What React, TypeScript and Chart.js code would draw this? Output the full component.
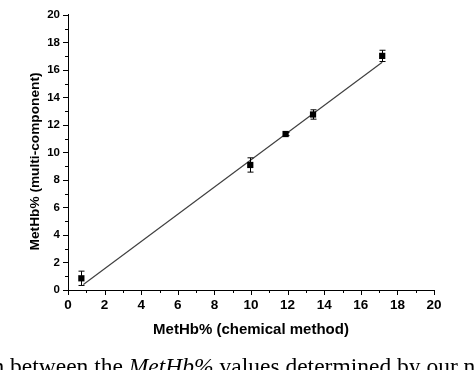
import React, { useEffect, useRef } from "react";
import { Chart, registerables } from "chart.js";

Chart.register(...registerables);

// Data
const chemicalX = [0.73, 9.96, 11.89, 13.39, 17.17];
const multiY = [0.85, 9.09, 11.34, 12.76, 17.02];
const yErr = [0.52, 0.52, 0.12, 0.34, 0.41];
const fitX = [0.84, 17.17];
const fitY = [0.4, 16.55];
const xTickValues = [0, 2, 4, 6, 8, 10, 12, 14, 16, 18, 20];
const yTickValues = [0, 2, 4, 6, 8, 10, 12, 14, 16, 18, 20];
const xTitle = "MetHb% (chemical method)";
const yTitle = "MetHb% (multi-component)";

const FONT = "'Liberation Sans', Arial, sans-serif";

const decorPlugin = {
  id: "decor",
  afterDatasetsDraw(chart: any) {
    const { ctx, scales } = chart;
    const x = scales.x;
    const y = scales.y;
    ctx.save();
    ctx.strokeStyle = "#000";
    ctx.lineWidth = 1;
    chemicalX.forEach((v, i) => {
      const px = Math.round(x.getPixelForValue(v)) + 0.5;
      const top = y.getPixelForValue(multiY[i] + yErr[i]);
      const bot = y.getPixelForValue(multiY[i] - yErr[i]);
      ctx.beginPath();
      ctx.moveTo(px, top);
      ctx.lineTo(px, bot);
      ctx.moveTo(px - 3, top);
      ctx.lineTo(px + 3, top);
      ctx.moveTo(px - 3, bot);
      ctx.lineTo(px + 3, bot);
      ctx.stroke();
    });
    ctx.restore();
  },
  afterDraw(chart: any) {
    const { ctx, chartArea, scales } = chart;
    const x = scales.x;
    const y = scales.y;
    ctx.save();
    ctx.strokeStyle = "#000";
    ctx.lineWidth = 1;
    ctx.beginPath();
    const xMin = xTickValues[0];
    const xMax = xTickValues[xTickValues.length - 1];
    for (let v = xMin; v <= xMax; v += 1) {
      const len = xTickValues.includes(v) ? 5 : 3;
      const px = Math.round(x.getPixelForValue(v)) + 0.5;
      ctx.moveTo(px, chartArea.bottom);
      ctx.lineTo(px, chartArea.bottom + len);
    }
    const yMin = yTickValues[0];
    const yMax = yTickValues[yTickValues.length - 1];
    for (let v = yMin; v <= yMax; v += 1) {
      const len = yTickValues.includes(v) ? 5 : 3;
      const py = Math.round(y.getPixelForValue(v)) + 0.5;
      ctx.moveTo(chartArea.left, py);
      ctx.lineTo(chartArea.left - len, py);
    }
    ctx.stroke();

    // y axis title
    ctx.fillStyle = "#000";
    ctx.font = `bold 13.7px ${FONT}`;
    ctx.textAlign = "center";
    ctx.textBaseline = "alphabetic";
    ctx.translate(chartArea.left - 29.2, (chartArea.top + chartArea.bottom) / 2 + 9);
    ctx.rotate(-Math.PI / 2);
    ctx.fillText(yTitle, 0, 0);
    ctx.restore();
  },
};

export default function App() {
  const canvasRef = useRef<HTMLCanvasElement | null>(null);

  useEffect(() => {
    if (!canvasRef.current) return;
    const chart = new Chart(canvasRef.current, {
      type: "scatter",
      data: {
        datasets: [
          {
            label: "points",
            data: chemicalX.map((v, i) => ({ x: v, y: multiY[i] })),
            pointStyle: "rect",
            pointRadius: 4.4,
            pointHoverRadius: 4.4,
            backgroundColor: "#000",
            borderColor: "#000",
            borderWidth: 0,
            showLine: false,
          },
          {
            label: "fit",
            data: fitX.map((v, i) => ({ x: v, y: fitY[i] })),
            showLine: true,
            pointRadius: 0,
            borderColor: "#404040",
            borderWidth: 1.2,
            backgroundColor: "#404040",
          },
        ],
      },
      options: {
        responsive: false,
        animation: false,
        devicePixelRatio: 1,
        layout: { padding: { left: 0, top: 8, right: 40, bottom: 0 } },
        plugins: {
          legend: { display: false },
          tooltip: { enabled: false },
        },
        scales: {
          x: {
            type: "linear",
            min: xTickValues[0],
            max: xTickValues[xTickValues.length - 1],
            afterFit: (scale: any) => {
              scale.height = 80;
            },
            afterBuildTicks: (scale: any) => {
              scale.ticks = xTickValues.map((v) => ({ value: v }));
            },
            grid: { display: false, drawTicks: false },
            border: { display: true, color: "#000", width: 1 },
            ticks: {
              color: "#000",
              padding: 7,
              maxRotation: 0,
              autoSkip: false,
              font: { family: FONT, size: 13.5, weight: "bold" },
            },
            title: {
              display: true,
              text: xTitle,
              color: "#000",
              padding: { top: 0, bottom: 31 },
              font: { family: FONT, size: 15, weight: "bold" },
            },
          },
          y: {
            type: "linear",
            min: yTickValues[0],
            max: yTickValues[yTickValues.length - 1],
            afterFit: (scale: any) => {
              scale.width = 68;
            },
            afterBuildTicks: (scale: any) => {
              scale.ticks = yTickValues.map((v) => ({ value: v }));
            },
            grid: { display: false, drawTicks: false },
            border: { display: true, color: "#000", width: 1 },
            ticks: {
              color: "#000",
              padding: 8,
              autoSkip: false,
              font: { family: FONT, size: 11.5, weight: "bold" },
            },
            title: { display: false },
          },
        },
      },
      plugins: [decorPlugin],
    } as any);
    return () => chart.destroy();
  }, []);

  return (
    <div
      style={{
        position: "fixed",
        left: 0,
        top: 0,
        width: 474,
        height: 370,
        overflow: "hidden",
        background: "#fff",
      }}
    >
      <canvas
        ref={canvasRef}
        width={474}
        height={370}
        style={{ position: "absolute", left: 0, top: 0, width: 474, height: 370 }}
      />
      <div
        style={{
          position: "absolute",
          left: -7.6,
          top: 354.5,
          whiteSpace: "nowrap",
          fontFamily: "'Liberation Serif', 'Times New Roman', serif",
          fontSize: 23.5,
          lineHeight: "23.5px",
          color: "#000",
        }}
      >
        n between the <i>MetHb%</i> values determined by our novel method
      </div>
    </div>
  );
}
